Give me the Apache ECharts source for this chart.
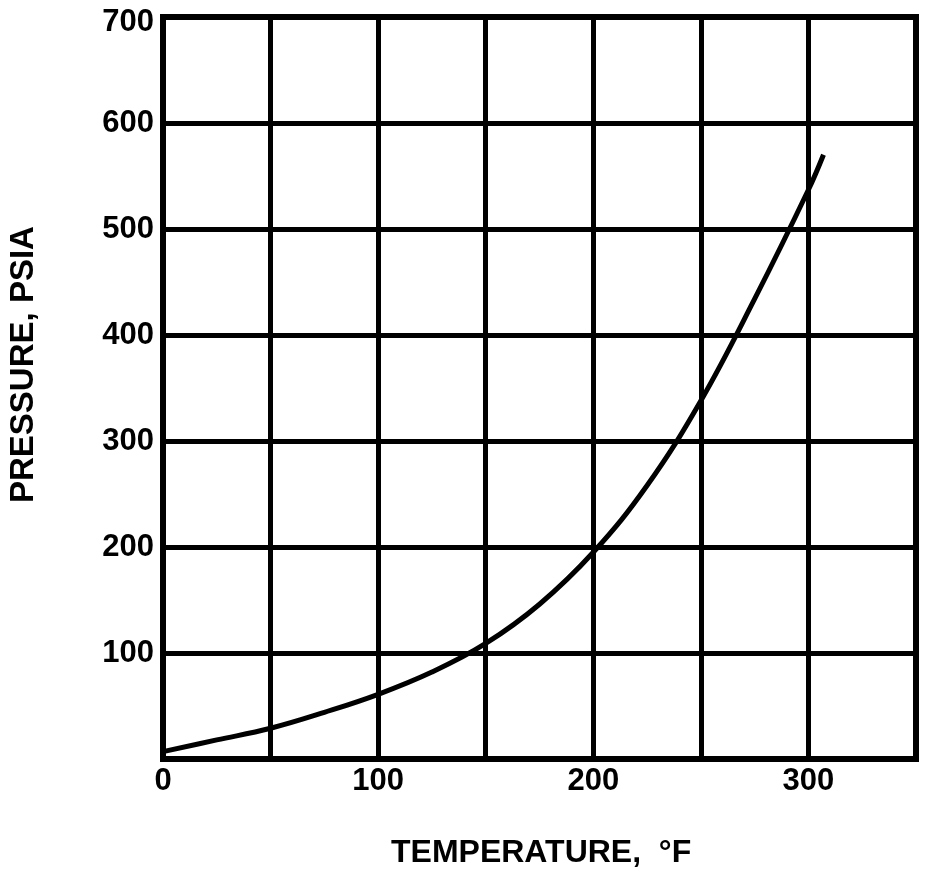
<!DOCTYPE html>
<html>
<head>
<meta charset="utf-8">
<script src="https://cdn.jsdelivr.net/npm/echarts@6/dist/echarts.min.js"></script>
<style>
html,body{margin:0;padding:0;background:#fff;}
#chart{width:926px;height:872px;}
</style>
</head>
<body>
<div id="chart"></div>
<script>
const temperatures = [0, 25, 50, 75, 100, 125, 150, 175, 200, 225, 250, 275, 300, 307];
const pressures    = [7, 18, 29, 44, 61, 82, 109, 146, 195, 258, 338, 434, 537, 570];
const xTickLabels = [0, 100, 200, 300];
const yTickLabels = [100, 200, 300, 400, 500, 600, 700];
const xTitle = 'TEMPERATURE,  °F';
const yTitle = 'PRESSURE, PSIA';

const points = temperatures.map((t, i) => [t, pressures[i]]);
const font = '"Liberation Sans", Arial, Helvetica, sans-serif';

const chart = echarts.init(document.getElementById('chart'));
chart.setOption({
  backgroundColor: '#ffffff',
  animation: false,
  grid: {
    left: 163, right: 10, top: 17, bottom: 113,
    show: true, borderColor: '#000', borderWidth: 6, backgroundColor: 'transparent'
  },
  xAxis: {
    type: 'value', min: 0, max: 350, interval: 50,
    axisLine: { show: false },
    axisTick: { show: false },
    splitLine: { show: true, lineStyle: { color: '#000', width: 5 } },
    axisLabel: {
      margin: 7,
      color: '#000', fontFamily: font, fontWeight: 'bold', fontSize: 31,
      formatter: v => xTickLabels.includes(v) ? String(v) : ''
    }
  },
  yAxis: {
    type: 'value', min: 0, max: 700, interval: 100,
    axisLine: { show: false },
    axisTick: { show: false },
    splitLine: { show: true, lineStyle: { color: '#000', width: 5 } },
    axisLabel: {
      margin: 9,
      color: '#000', fontFamily: font, fontWeight: 'bold', fontSize: 31,
      formatter: v => yTickLabels.includes(v) ? (v === 700 ? '{top|' + v + '}' : String(v)) : '',
      rich: {
        top: { color: '#000', fontFamily: font, fontWeight: 'bold', fontSize: 31, padding: [10, 0, 0, 0] }
      }
    }
  },
  graphic: [
    {
      type: 'text', left: 391, top: 837,
      style: { text: xTitle, fill: '#000', font: 'bold 32px ' + font }
    },
    {
      type: 'text', x: 7, y: 503, rotation: Math.PI / 2,
      style: { text: yTitle, fill: '#000', font: 'bold 33px ' + font, textAlign: 'left', textVerticalAlign: 'top' }
    }
  ],
  series: [{
    type: 'line',
    data: points,
    smooth: 0.4,
    symbol: 'none',
    lineStyle: { color: '#000', width: 5 },
    z: 5
  }]
});
</script>
</body>
</html>
